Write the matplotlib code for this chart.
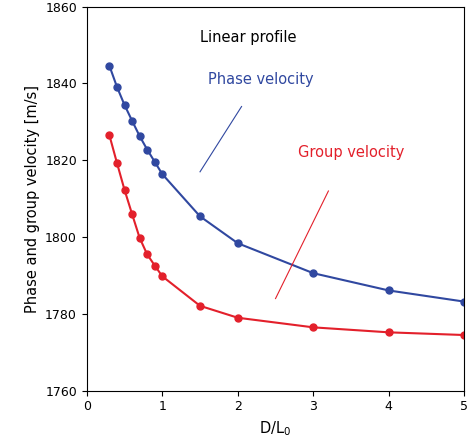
import matplotlib.pyplot as plt
import numpy as np

dl = [0.3, 0.4, 0.5, 0.6, 0.7, 0.8, 0.9, 1.0, 1.5, 2, 3, 4, 5]
phase = [1844.6, 1839.1, 1834.4, 1830.3, 1826.3, 1822.8, 1819.6, 1816.4, 1805.4, 1798.4, 1790.6, 1786.1, 1783.2]
group = [1826.5, 1819.3, 1812.3, 1806.0, 1799.8, 1795.5, 1792.6, 1789.8, 1782.1, 1779.0, 1776.5, 1775.2, 1774.5]

BLUE = '#3048a0'
RED = '#e3202b'

fig, ax = plt.subplots(figsize=(4.69, 4.44), dpi=100)
ax.plot(dl, phase, '-o', color=BLUE, ms=5, lw=1.5)
ax.plot(dl, group, '-o', color=RED, ms=5, lw=1.5)

ax.text(1.5, 1852, 'Linear profile', fontsize=10.5, ha='left', va='center')
ax.text(1.6, 1841, 'Phase velocity', fontsize=10.5, color=BLUE, va='center')
ax.plot([2.05, 1.5], [1834, 1817], color=BLUE, lw=0.8)
ax.text(2.8, 1822, 'Group velocity', fontsize=10.5, color=RED, va='center')
ax.plot([3.2, 2.5], [1812, 1784], color=RED, lw=0.8)

ax.set_xlim(0, 5)
ax.set_ylim(1760, 1860)
ax.set_xticks(range(6))
ax.set_yticks(range(1760, 1861, 20))
ax.tick_params(labelsize=9)
ax.set_xlabel('D/L$_0$', fontsize=10.5)
ax.set_ylabel('Phase and group velocity [m/s]', fontsize=10.5)
fig.subplots_adjust(left=0.185, right=0.99, top=0.985, bottom=0.12)
fig.savefig('out.png')
